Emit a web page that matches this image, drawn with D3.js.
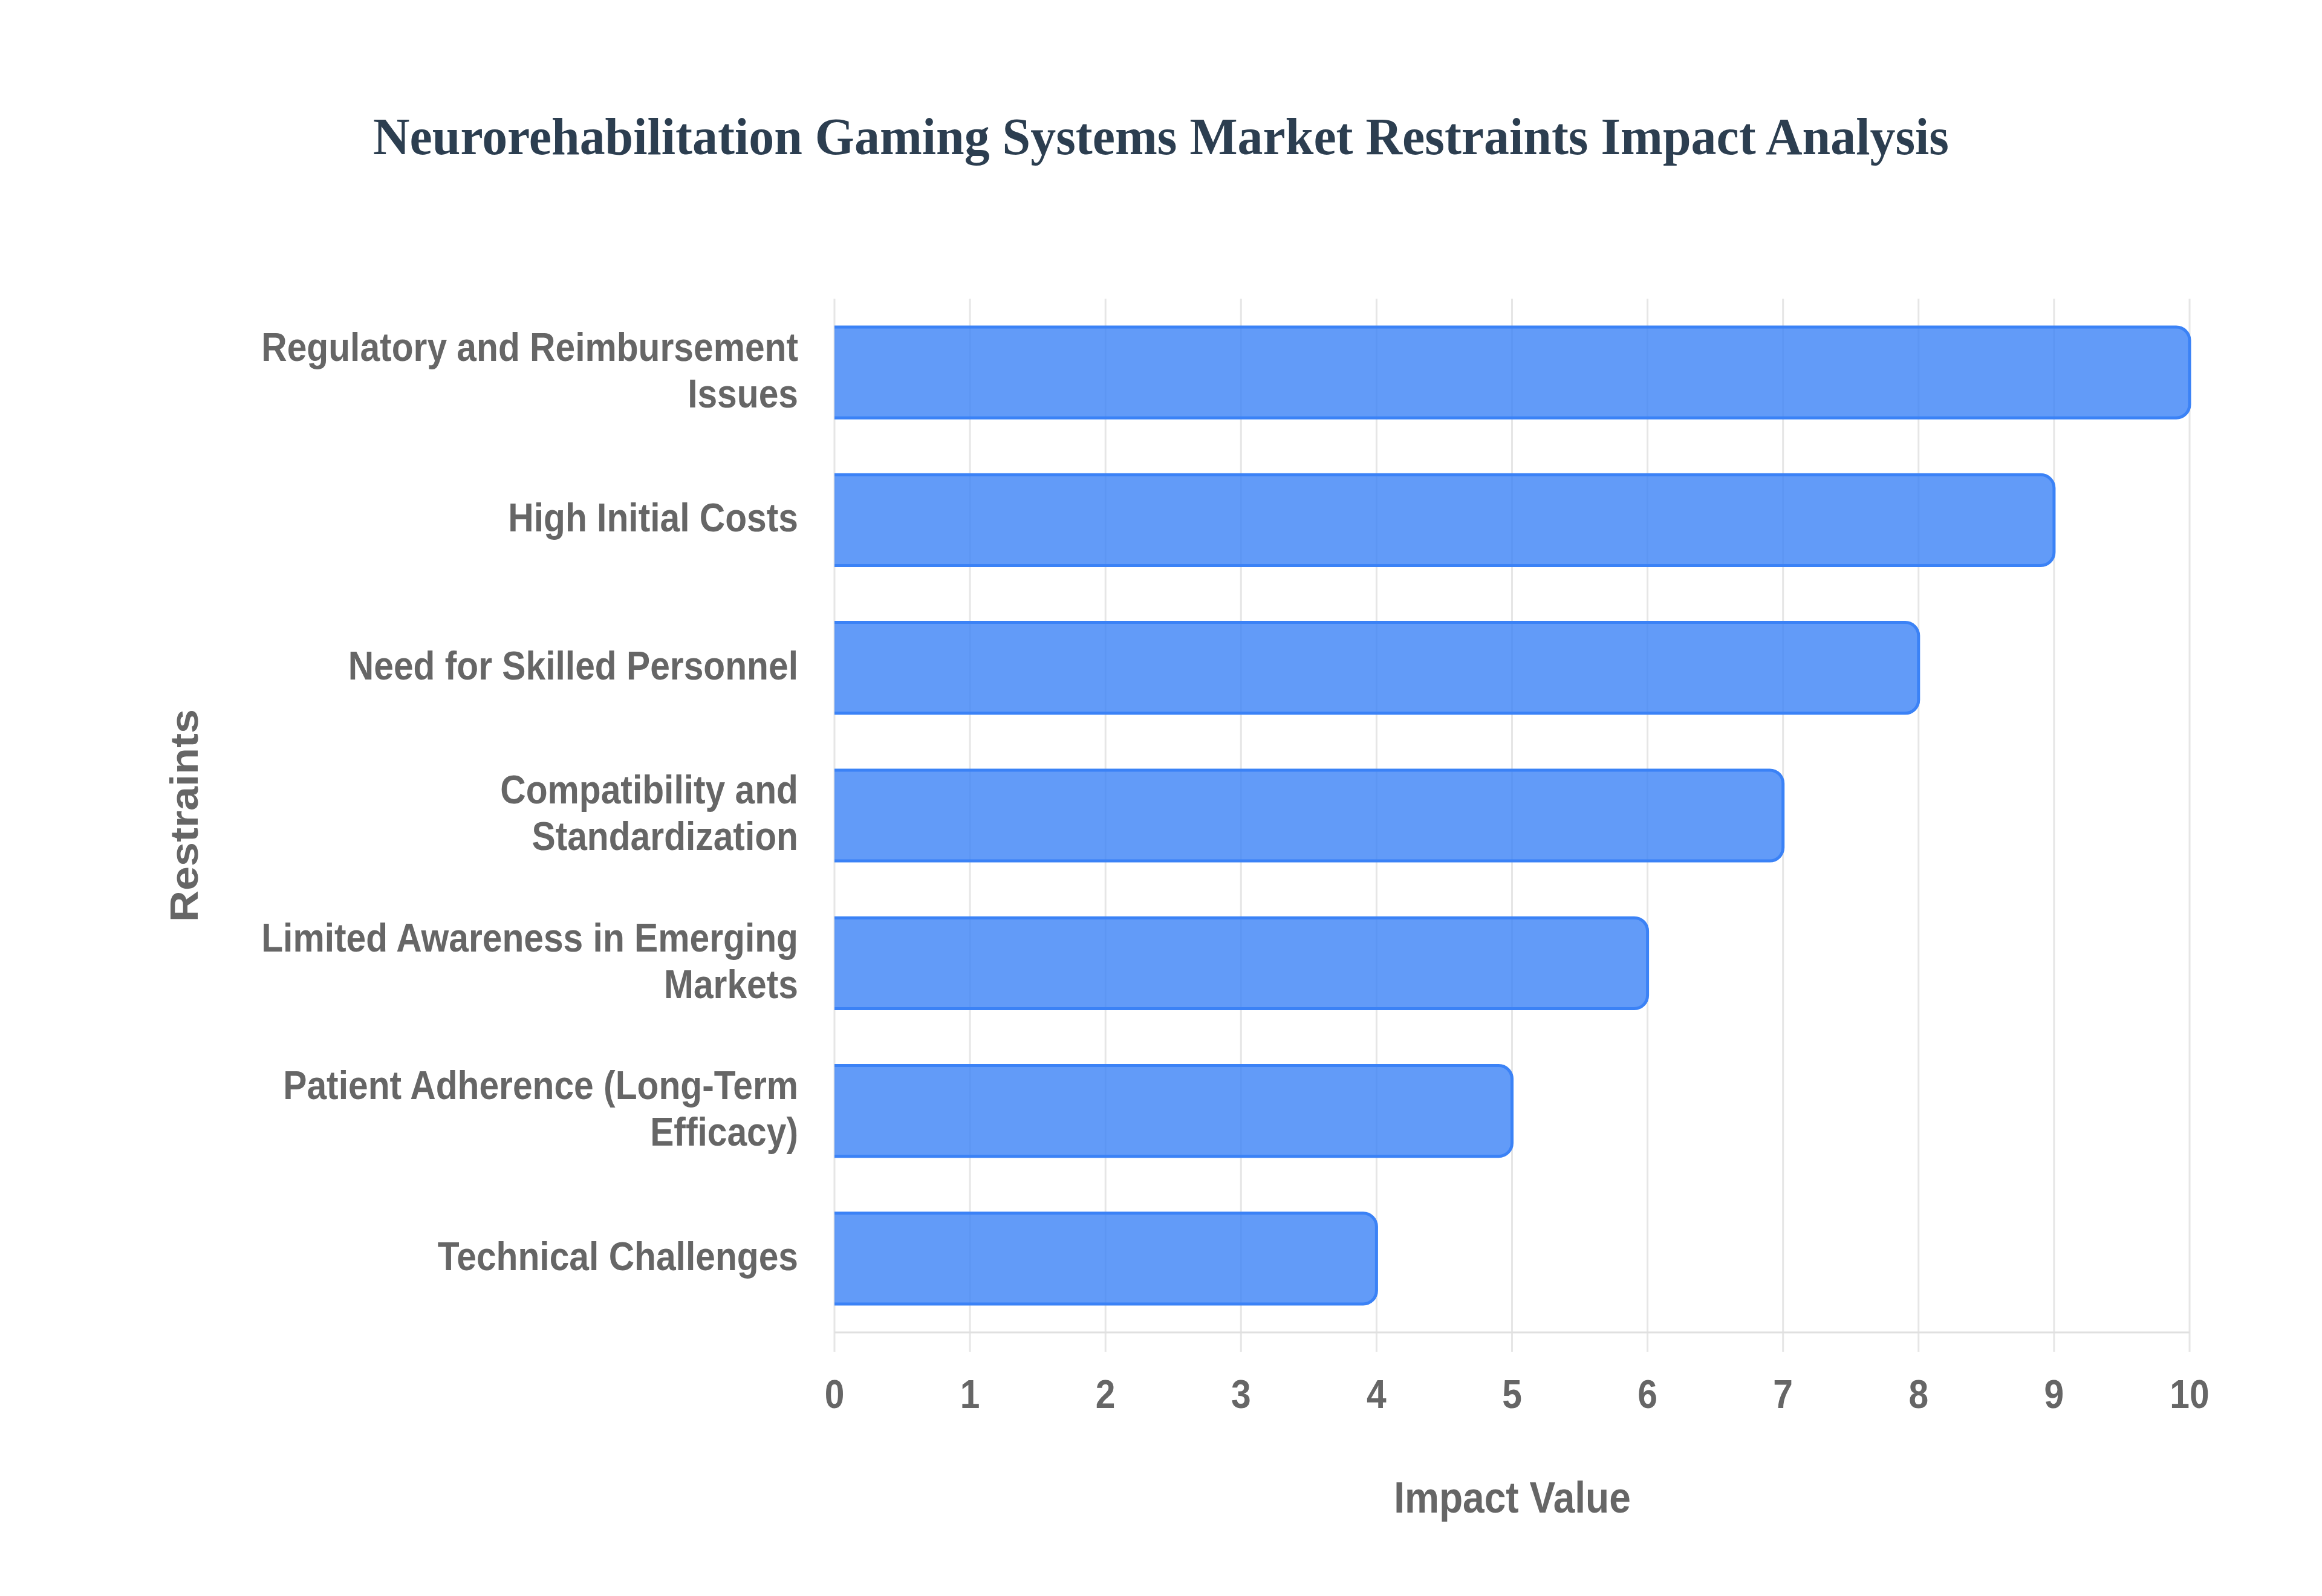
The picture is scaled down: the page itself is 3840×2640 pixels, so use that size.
<!DOCTYPE html>
<html>
<head>
<meta charset="utf-8">
<script src="https://cdn.jsdelivr.net/npm/d3@7"></script>
<style>
  html, body { margin: 0; padding: 0; background: #fff; }
  svg { display: block; }
</style>
</head>
<body>
<div id="chart"></div>
<script>
// data
var categories = [
  'Regulatory and Reimbursement Issues',
  'High Initial Costs',
  'Need for Skilled Personnel',
  'Compatibility and Standardization',
  'Limited Awareness in Emerging Markets',
  'Patient Adherence (Long-Term Efficacy)',
  'Technical Challenges'
];
var labelLines = [
  ['Regulatory and Reimbursement', 'Issues'],
  ['High Initial Costs'],
  ['Need for Skilled Personnel'],
  ['Compatibility and', 'Standardization'],
  ['Limited Awareness in Emerging', 'Markets'],
  ['Patient Adherence (Long-Term', 'Efficacy)'],
  ['Technical Challenges']
];
var impactValues = [10, 9, 8, 7, 6, 5, 4];
var xTicks = [0, 1, 2, 3, 4, 5, 6, 7, 8, 9, 10];

var chartTitle = 'Neurorehabilitation Gaming Systems Market Restraints Impact Analysis';
var xTitle = 'Impact Value';
var yTitle = 'Restraints';

// the picture is squeezed horizontally, so draw in a wider viewBox
var K = 0.89;
var W = 3840, H = 2640;
var VW = W / K;
function X(px) { return px / K; }

var plotLeft = 1380, plotRight = 3621, plotTop = 494, plotBottom = 2204;
var sans = '"Liberation Sans", Arial, Helvetica, sans-serif';
var grey = '#666666';

var svg = d3.select('#chart').append('svg')
    .attr('width', W)
    .attr('height', H)
    .attr('viewBox', '0 0 ' + VW + ' ' + H)
    .attr('preserveAspectRatio', 'none');

var x = d3.scaleLinear().domain([0, 10]).range([X(plotLeft), X(plotRight)]);
var y = d3.scaleBand().domain(categories).range([plotTop, plotBottom])
    .paddingInner(0.385).paddingOuter(0.1925);

// grid
svg.append('g').selectAll('line')
    .data(xTicks)
    .enter().append('line')
    .attr('x1', function (d) { return x(d); })
    .attr('x2', function (d) { return x(d); })
    .attr('y1', plotTop)
    .attr('y2', plotBottom + 32)
    .attr('stroke', '#e6e6e6')
    .attr('stroke-width', 3)
    .attr('vector-effect', 'non-scaling-stroke');

svg.append('line')
    .attr('x1', x(0)).attr('x2', x(10))
    .attr('y1', plotBottom).attr('y2', plotBottom)
    .attr('stroke', '#e0e0e0')
    .attr('stroke-width', 3)
    .attr('vector-effect', 'non-scaling-stroke');

// bars, rounded at the end only
var r = 22;
function barPath(d, i) {
  var c = categories[i];
  var x0 = x(0), x1 = x(d);
  var y0 = y(c), y1 = y(c) + y.bandwidth();
  var rx = X(r);
  return 'M' + x0 + ',' + y0 +
    'L' + (x1 - rx) + ',' + y0 +
    'A' + rx + ',' + r + ' 0 0 1 ' + x1 + ',' + (y0 + r) +
    'L' + x1 + ',' + (y1 - r) +
    'A' + rx + ',' + r + ' 0 0 1 ' + (x1 - rx) + ',' + y1 +
    'L' + x0 + ',' + y1;
}

svg.append('g').selectAll('path')
    .data(impactValues)
    .enter().append('path')
    .attr('d', barPath)
    .attr('fill', 'rgba(59,130,246,0.8)')
    .attr('stroke', '#3b82f6')
    .attr('stroke-width', 5)
    .attr('vector-effect', 'non-scaling-stroke');

// x tick labels
svg.append('g').selectAll('text')
    .data(xTicks)
    .enter().append('text')
    .attr('x', function (d) { return x(d); })
    .attr('y', 2329)
    .attr('text-anchor', 'middle')
    .attr('font-family', sans)
    .attr('font-weight', 'bold')
    .attr('font-size', 66)
    .attr('fill', grey)
    .text(function (d) { return d; });

// y labels
var lineGap = 77;
var ylab = svg.append('g').selectAll('text')
    .data(labelLines)
    .enter().append('text')
    .attr('text-anchor', 'end')
    .attr('font-family', sans)
    .attr('font-weight', 'bold')
    .attr('font-size', 66)
    .attr('fill', grey);

ylab.each(function (lines, i) {
  var cy = y(categories[i]) + y.bandwidth() / 2;
  var t = d3.select(this);
  lines.forEach(function (s, j) {
    t.append('tspan')
      .attr('x', X(1320))
      .attr('y', cy + (j - (lines.length - 1) / 2) * lineGap + 19)
      .text(s);
  });
});

// titles
svg.append('text')
    .attr('x', X(1920))
    .attr('y', 255)
    .attr('text-anchor', 'middle')
    .attr('font-family', '"Liberation Serif", "Times New Roman", Times, serif')
    .attr('font-weight', 'bold')
    .attr('font-size', 86)
    .attr('textLength', X(2606))
    .attr('lengthAdjust', 'spacingAndGlyphs')
    .attr('fill', '#2c3e50')
    .text(chartTitle);

svg.append('text')
    .attr('x', X(2501))
    .attr('y', 2502)
    .attr('text-anchor', 'middle')
    .attr('font-family', sans)
    .attr('font-weight', 'bold')
    .attr('font-size', 72)
    .attr('fill', grey)
    .text(xTitle);

svg.append('text')
    .attr('transform', 'translate(' + X(327) + ',' + ((plotTop + plotBottom) / 2) + ') rotate(-90)')
    .attr('text-anchor', 'middle')
    .attr('font-family', sans)
    .attr('font-weight', 'bold')
    .attr('font-size', 72)
    .attr('fill', grey)
    .text(yTitle);
</script>
</body>
</html>
